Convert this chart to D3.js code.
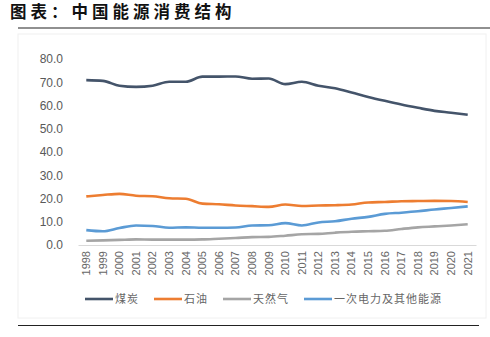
<!DOCTYPE html>
<html>
<head>
<meta charset="utf-8">
<script src="https://cdn.jsdelivr.net/npm/d3@7"></script>
<style>
  body { margin: 0; background: #fff; }
  svg { display: block; }
  text { font-family: "Liberation Sans", Arial, sans-serif; }
  .cjk { font-family: "Noto Sans CJK SC", sans-serif; }
</style>
</head>
<body>
<div id="grafico"></div>
<script>
// Dados (%)
const anos = d3.range(1998, 2022).map(String);
const carvao = [70.9, 70.6, 68.5, 68.0, 68.5, 70.2, 70.2, 72.4, 72.4, 72.5, 71.5, 71.6, 69.2, 70.2, 68.5, 67.4, 65.6, 63.7, 62.0, 60.4, 59.0, 57.7, 56.9, 56.0];
const petroleo = [20.9, 21.5, 22.0, 21.2, 21.0, 20.1, 19.9, 17.8, 17.5, 17.0, 16.7, 16.4, 17.4, 16.8, 17.0, 17.1, 17.4, 18.3, 18.5, 18.8, 18.9, 19.0, 18.9, 18.5];
const gas = [1.8, 2.0, 2.2, 2.4, 2.3, 2.3, 2.3, 2.4, 2.7, 3.0, 3.4, 3.5, 4.0, 4.6, 4.8, 5.3, 5.7, 5.9, 6.1, 6.9, 7.6, 8.0, 8.4, 8.9];
const eletricidade = [6.4, 5.9, 7.3, 8.4, 8.2, 7.4, 7.6, 7.4, 7.4, 7.5, 8.4, 8.5, 9.4, 8.4, 9.7, 10.2, 11.3, 12.1, 13.4, 13.9, 14.5, 15.3, 15.9, 16.6];
const nomes = ['煤炭', '石油', '天然气', '一次电力及其他能源'];
const cores = ['#44546A', '#ED7D31', '#A5A5A5', '#5B9BD5'];
const ticksY = [0, 10, 20, 30, 40, 50, 60, 70, 80];

const series = [carvao, petroleo, gas, eletricidade];

const largura = 490;
const altura = 337;
const margem = { top: 59, right: 14, bottom: 92, left: 78 };

const svg = d3
  .select('#grafico')
  .append('svg')
  .attr('width', largura)
  .attr('height', altura);

// Título e linhas decorativas
svg
  .append('text')
  .attr('class', 'cjk')
  .attr('x', 10)
  .attr('y', 18)
  .attr('font-size', 16.5)
  .attr('font-weight', 'bold')
  .attr('letter-spacing', 4)
  .attr('fill', '#111')
  .text('图表：中国能源消费结构');

svg.append('line').attr('x1', 18).attr('x2', 490).attr('y1', 28).attr('y2', 28)
  .attr('stroke', '#222').attr('stroke-width', 1.2);

svg.append('rect').attr('x', 18).attr('y', 34).attr('width', 468).attr('height', 284)
  .attr('fill', 'none').attr('stroke', '#f0f0f0');

svg.append('line').attr('x1', 18).attr('x2', 479).attr('y1', 325.5).attr('y2', 325.5)
  .attr('stroke', '#222').attr('stroke-width', 1.2);

const g = svg.append('g');

// Escalas
const x = d3.scaleBand().domain(anos).range([margem.left, 476]);
const y = d3.scaleLinear().domain([0, 80]).range([245, 59]);

// Eixo Y
const eixoY = g.append('g')
  .attr('transform', `translate(${margem.left - 10},0)`)
  .call(d3.axisLeft(y).tickValues(ticksY).tickFormat(d3.format('.1f')).tickSize(0).tickPadding(5));
eixoY.select('.domain').remove();
eixoY.selectAll('text').attr('font-size', 12).attr('fill', '#595959')
  .style('font-family', '"Liberation Sans", Arial, sans-serif');

// Eixo X
const eixoX = g.append('g')
  .attr('transform', 'translate(0,245)')
  .call(d3.axisBottom(x).tickSize(0).tickPadding(0));
eixoX.select('.domain').attr('stroke', '#d9d9d9');
eixoX.selectAll('text')
  .attr('font-size', 11)
  .attr('fill', '#666')
  .attr('text-anchor', 'end')
  .attr('dy', '0.35em')
  .attr('transform', 'translate(0,6) rotate(-90)')
  .attr('x', 0)
  .attr('y', 0)
  .style('font-family', '"Liberation Sans", Arial, sans-serif');

// Linhas
const linha = d3.line()
  .x((d, i) => x(anos[i]) + x.bandwidth() / 2)
  .y((d) => y(d))
  .curve(d3.curveMonotoneX);

series.forEach((s, i) => {
  g.append('path')
    .datum(s)
    .attr('fill', 'none')
    .attr('stroke', cores[i])
    .attr('stroke-width', 2.6)
    .attr('stroke-linejoin', 'round')
    .attr('d', linha);
});

// Legenda
const legX = [85, 154, 223, 304];
const legenda = svg.append('g');
nomes.forEach((n, i) => {
  legenda.append('line')
    .attr('x1', legX[i]).attr('x2', legX[i] + 28)
    .attr('y1', 299).attr('y2', 299)
    .attr('stroke', cores[i]).attr('stroke-width', 2.6);
  legenda.append('text')
    .attr('class', 'cjk')
    .attr('x', legX[i] + 30)
    .attr('y', 299)
    .attr('dy', '0.35em')
    .attr('font-size', 11)
    .attr('letter-spacing', 1)
    .attr('fill', '#666')
    .text(n);
});
</script>
</body>
</html>
